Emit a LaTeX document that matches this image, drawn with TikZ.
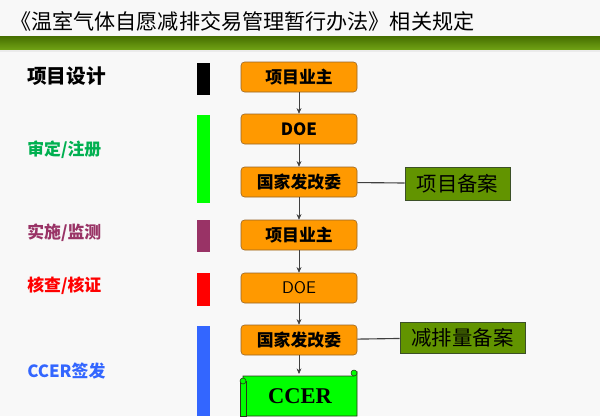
\documentclass[tikz,border=0pt]{standalone}
\usepackage{fontspec}
\setmainfont{Liberation Serif}
\newfontfamily\cjk{Noto Sans CJK SC}
\usetikzlibrary{positioning, arrows.meta}

\definecolor{bgcol}{RGB}{248,248,248}
\definecolor{boxorange}{RGB}{255,153,0}
\definecolor{boxedge}{RGB}{150,100,40}
\definecolor{filegreen}{RGB}{98,148,0}
\definecolor{fileedge}{RGB}{60,80,40}
\definecolor{labgreen}{RGB}{0,176,80}
\definecolor{labpurple}{RGB}{153,51,102}
\definecolor{labblue}{RGB}{51,102,255}
\definecolor{barbright}{RGB}{0,255,0}

\begin{document}
\begin{tikzpicture}[x=0.025cm, y=-0.025cm,
  every node/.style={align=center, inner sep=0pt},
  step box/.style={rectangle, minimum width=116*0.025cm, minimum height=30*0.025cm, draw=boxedge, fill=boxorange, rounded corners=2.5pt, font=\cjk\bfseries\fontsize{12}{14}\selectfont},
  file box/.style={rectangle, draw=fileedge, fill=filegreen, font=\cjk\fontsize{14.5}{16}\selectfont},
  stage/.style={anchor=west, font=\cjk\bfseries\fontsize{12}{14}\selectfont},
  arr/.style={draw=black!75, line width=0.5pt, -{Stealth[length=4pt, width=3.5pt]}},
  link/.style={draw=black!75, line width=0.8pt}
]

% background and title
\fill[bgcol] (0,0) rectangle (600,416);
\useasboundingbox (0,0) rectangle (600,416);
\node[anchor=west, font=\cjk\fontsize{15}{17}\selectfont] (title) at (10,21) {《温室气体自愿减排交易管理暂行办法》相关规定};
\fill[black!8] (0,48) rectangle (600,52);
\shade[top color={rgb,255:red,70;green,110;blue,0}, bottom color={rgb,255:red,110;green,160;blue,20}] (0,36) rectangle (600,49);

% Stage labels
\node[stage, font=\cjk\bfseries\fontsize{14}{16}\selectfont] (s1) at (27,76) {项目设计};
\node[stage, text=labgreen]  (s2) at (27,150) {审定/注册};
\node[stage, text=labpurple] (s3) at (27,233) {实施/监测};
\node[stage, text=red]       (s4) at (27,286) {核查/核证};
\node[stage, text=labblue]   (s5) at (27,371) {CCER签发};

% Stage bars
\fill[black]     (197,63)  rectangle (210,95);
\fill[barbright] (197,115) rectangle (210,203);
\fill[labpurple] (197,220) rectangle (210,252);
\fill[red]       (197,273) rectangle (210,306);
\fill[labblue]   (197,326) rectangle (210,416);

% Flow
\node[step box] (b1) at (299,77)  {项目业主};
\node[step box] (b2) at (299,129) {DOE};
\node[step box] (b3) at (299,182) {国家发改委};
\node[step box] (b4) at (299,235) {项目业主};
\node[step box, font=\fontsize{12}{14}\selectfont\sffamily] (b5) at (299,288) {DOE};
\node[step box] (b6) at (299,340) {国家发改委};

% CCER scroll
\draw[fileedge!70!black, fill=barbright] (243,376) -- (354,376) -- (357,372) -- (357,416) -- (243,416) -- cycle;
\draw[fileedge!70!black, fill=barbright] (354,373) circle (3);
\draw[fileedge!70!black, fill=barbright] (240,381) rectangle (246,416);
\draw[fileedge!70!black, fill=barbright] (243,381) circle (3);
\node[font=\bfseries\fontsize{16}{18}\selectfont] (ccer) at (300,396) {CCER};
\coordinate (b7) at (299,374);

\draw[arr] (b1) -- (b2);
\draw[arr] (b2) -- (b3);
\draw[arr] (b3) -- (b4);
\draw[arr] (b4) -- (b5);
\draw[arr] (b5) -- (b6);
\draw[arr] (b6) -- (b7);

% Filing
\node[file box, minimum width=105*0.025cm, minimum height=33*0.025cm] (f1) at (457.5,183.5) {项目备案};
\node[file box, minimum width=125*0.025cm, minimum height=31*0.025cm] (f2) at (462.5,337.5) {减排量备案};
\draw[link] (b3) -- (f1);
\draw[link] (b6) -- (f2);

\end{tikzpicture}
\end{document}
